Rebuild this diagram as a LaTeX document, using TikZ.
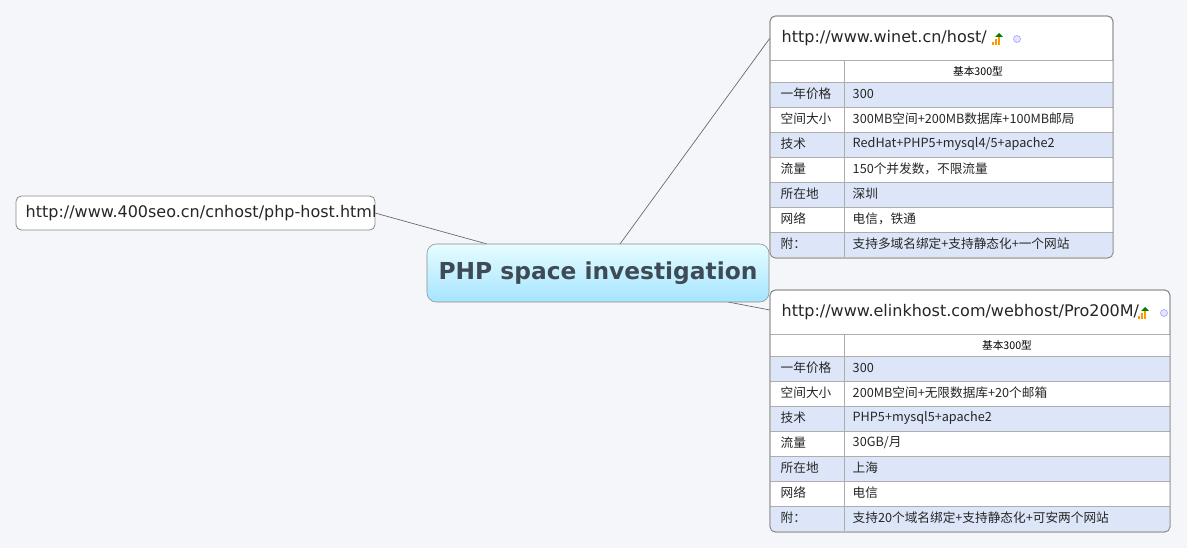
\documentclass[tikz,border=0pt]{standalone}
\usepackage{fontspec}
\setmainfont{DejaVu Sans}
\newfontfamily\cjk{Noto Sans CJK SC}
\definecolor{bg}{HTML}{F5F6F9}
\definecolor{rowblue}{HTML}{DDE6F8}
\definecolor{edgegray}{HTML}{8A8A8A}
\definecolor{titletxt}{HTML}{3E4A56}
\tikzset{
  px/.style={x=0.75pt,y=-0.75pt},
  celltxt/.style={font=\cjk\fontsize{9.5}{11}\selectfont,text=black!85,anchor=west},
  conn/.style={draw=black!60,line width=0.5pt},
  urlbox/.style={draw=edgegray,rounded corners=4pt,line width=0.6pt},
  urltxt/.style={anchor=west,font=\fontsize{12}{14}\selectfont,text=black!85},
}
\begin{document}
\begin{tikzpicture}[px]
\fill[bg] (0,0) rectangle (1187,548);
\useasboundingbox (0,0) rectangle (1187,548);
% connectors
\coordinate (c1) at (620,244);
\coordinate (c2) at (728,302);
\coordinate (c3) at (487,244);
\coordinate (lft) at (375,213);
\coordinate (b1) at (770,38);
\coordinate (b2) at (770,310);
\draw[conn] (lft) -- (c3);
\draw[conn] (c1) -- (b1);
\draw[conn] (c2) -- (b2);
% central node
\shade[top color=blue!8!cyan!10,bottom color=blue!30!cyan!35,draw=edgegray,rounded corners=7pt] (427,244) rectangle (769,302);
\node[font=\bfseries\fontsize{17.5}{20}\selectfont,text=titletxt] (center) at (598,273) {PHP space investigation};
% left node
\draw[urlbox,fill=white] (16,196) rectangle (375,230);
\node[urltxt] (left) at (21,213) {http://www.400seo.cn/cnhost/php-host.html};
% box 1
\draw[urlbox,fill=white] (770,16) rectangle (1113,258);
\node[urltxt] (u1) at (777,38) {http://www.winet.cn/host/};
\foreach \i/\h in {0/3,1/6,2/9}{\fill[orange!80!yellow] (992+\i*3,45-\h) rectangle (994+\i*3,45);}
\fill[green!50!black] (999,33) -- (1003,37) -- (995,37) -- cycle;
\draw[blue!40,fill=blue!10] (1017,39) circle (3.5);
\foreach \y/\a/\c in {
 60/{}/white, 82/一年价格/rowblue, 107/空间大小/white, 132/技术/rowblue,
 157/流量/white, 182/所在地/rowblue, 207/网络/white, 232/附：/rowblue}{
  \fill[\c] (770.5,\y) rectangle (1112.5,\y+25);
  \draw[edgegray!70] (770,\y) -- (1113,\y);
  \draw[edgegray!70] (844,\y) -- (844,\y+25);
  \node[celltxt] at (776,\y+12) {\a};
}
\node[font=\cjk\fontsize{8}{10}\selectfont] (h1) at (978,71) {基本300型};
\foreach \y/\b in {82/{300},107/{300MB空间+200MB数据库+100MB邮局},132/{RedHat+PHP5+mysql4/5+apache2},157/{150个并发数，不限流量},182/{深圳},207/{电信，铁通},232/{支持多域名绑定+支持静态化+一个网站}}
  \node[celltxt] at (848,\y+12) {\b};
\draw[urlbox] (770,16) rectangle (1113,258);
% box 2
\draw[urlbox,fill=white] (770,290) rectangle (1170,532);
\node[urltxt] (u2) at (777,312) {http://www.elinkhost.com/webhost/Pro200M/};
\foreach \i/\h in {0/3,1/6,2/9}{\fill[orange!80!yellow] (1138+\i*3,319-\h) rectangle (1140+\i*3,319);}
\fill[green!50!black] (1145,307) -- (1149,311) -- (1141,311) -- cycle;
\draw[blue!40,fill=blue!10] (1164,313) circle (3.5);
\foreach \y/\a/\c in {
 334/{}/white, 356/一年价格/rowblue, 381/空间大小/white, 406/技术/rowblue,
 431/流量/white, 456/所在地/rowblue, 481/网络/white, 506/附：/rowblue}{
  \fill[\c] (770.5,\y) rectangle (1169.5,\y+25);
  \draw[edgegray!70] (770,\y) -- (1170,\y);
  \draw[edgegray!70] (844,\y) -- (844,\y+25);
  \node[celltxt] at (776,\y+12) {\a};
}
\node[font=\cjk\fontsize{8}{10}\selectfont] (h2) at (1007,345) {基本300型};
\foreach \y/\b in {356/{300},381/{200MB空间+无限数据库+20个邮箱},406/{PHP5+mysql5+apache2},431/{30GB/月},456/{上海},481/{电信},506/{支持20个域名绑定+支持静态化+可安两个网站}}
  \node[celltxt] at (848,\y+12) {\b};
\draw[urlbox] (770,290) rectangle (1170,532);
\end{tikzpicture}
\end{document}
